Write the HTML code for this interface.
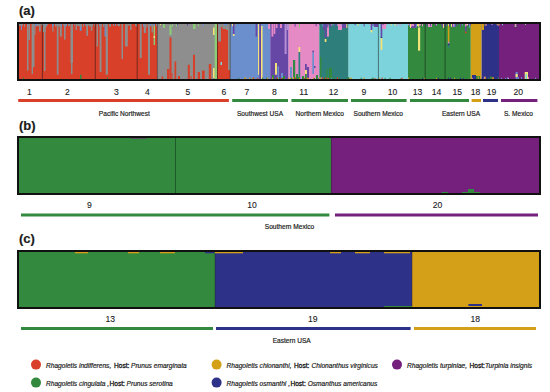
<!DOCTYPE html>
<html><head><meta charset="utf-8"><title>STRUCTURE plots</title>
<style>html,body{margin:0;padding:0;background:#fff;width:550px;height:392px;overflow:hidden}
text{font-family:"Liberation Sans",sans-serif}</style></head>
<body><svg width="550" height="392" viewBox="0 0 550 392" style="display:block" font-family="Liberation Sans, sans-serif"><rect x="19.00" y="24.00" width="138.40" height="55.00" fill="#D8402A"/>
<rect x="157.40" y="24.00" width="55.60" height="55.00" fill="#8E8E8E"/>
<rect x="213.00" y="24.00" width="4.00" height="55.00" fill="#8CCB78"/>
<rect x="217.00" y="24.00" width="13.20" height="55.00" fill="#D8402A"/>
<rect x="230.20" y="24.00" width="40.00" height="55.00" fill="#6A8FCC"/>
<rect x="270.20" y="24.00" width="18.40" height="55.00" fill="#6747A6"/>
<rect x="288.60" y="24.00" width="30.70" height="55.00" fill="#E68AC6"/>
<rect x="319.30" y="24.00" width="29.30" height="55.00" fill="#2E7F7B"/>
<rect x="348.60" y="24.00" width="59.40" height="55.00" fill="#7DD3DB"/>
<rect x="408.00" y="24.00" width="62.80" height="55.00" fill="#338A3E"/>
<rect x="470.80" y="24.00" width="10.80" height="55.00" fill="#D4A017"/>
<rect x="481.60" y="24.00" width="17.40" height="55.00" fill="#2E3188"/>
<rect x="499.00" y="24.00" width="40.00" height="55.00" fill="#75207D"/>
<rect x="21.00" y="24.00" width="1.00" height="6.00" fill="#6A8FCC"/>
<rect x="27.00" y="24.00" width="1.50" height="46.60" fill="#8E8E8E"/>
<rect x="28.50" y="24.00" width="1.50" height="16.00" fill="#8E8E8E"/>
<rect x="31.60" y="24.00" width="1.40" height="50.00" fill="#8E8E8E"/>
<rect x="33.00" y="24.00" width="1.50" height="43.00" fill="#8E8E8E"/>
<rect x="34.50" y="24.00" width="1.00" height="11.00" fill="#8E8E8E"/>
<rect x="39.00" y="24.00" width="1.70" height="7.60" fill="#8E8E8E"/>
<rect x="43.00" y="24.00" width="2.70" height="8.00" fill="#8E8E8E"/>
<rect x="44.00" y="24.00" width="1.50" height="47.00" fill="#8E8E8E"/>
<rect x="52.30" y="24.00" width="1.20" height="7.60" fill="#8E8E8E"/>
<rect x="56.80" y="24.00" width="1.70" height="50.70" fill="#8E8E8E"/>
<rect x="59.80" y="24.00" width="2.00" height="12.60" fill="#8E8E8E"/>
<rect x="64.00" y="24.00" width="1.60" height="15.60" fill="#8E8E8E"/>
<rect x="64.00" y="24.00" width="1.60" height="3.00" fill="#6A8FCC"/>
<rect x="70.50" y="24.00" width="2.50" height="39.00" fill="#8E8E8E"/>
<rect x="71.00" y="24.00" width="1.50" height="50.00" fill="#8E8E8E"/>
<rect x="75.50" y="24.00" width="1.50" height="6.00" fill="#8E8E8E"/>
<rect x="79.70" y="24.00" width="2.00" height="6.80" fill="#6A8FCC"/>
<rect x="80.00" y="74.70" width="1.50" height="4.30" fill="#338A3E"/>
<rect x="86.30" y="24.00" width="1.70" height="11.80" fill="#8E8E8E"/>
<rect x="90.80" y="24.00" width="1.60" height="6.80" fill="#8E8E8E"/>
<rect x="96.60" y="24.00" width="1.40" height="22.50" fill="#8E8E8E"/>
<rect x="99.60" y="24.00" width="1.90" height="48.00" fill="#8E8E8E"/>
<rect x="104.50" y="24.00" width="1.70" height="12.60" fill="#6A8FCC"/>
<rect x="105.70" y="24.00" width="2.20" height="50.70" fill="#8E8E8E"/>
<rect x="121.50" y="24.00" width="1.50" height="35.00" fill="#8E8E8E"/>
<rect x="125.00" y="24.00" width="2.80" height="22.50" fill="#8E8E8E"/>
<rect x="130.00" y="24.00" width="1.50" height="6.00" fill="#8E8E8E"/>
<rect x="139.70" y="24.00" width="2.00" height="34.00" fill="#8E8E8E"/>
<rect x="143.80" y="24.00" width="2.20" height="9.00" fill="#8E8E8E"/>
<rect x="146.30" y="24.00" width="1.20" height="3.50" fill="#8E8E8E"/>
<rect x="148.00" y="24.00" width="2.00" height="50.70" fill="#8E8E8E"/>
<rect x="151.60" y="24.00" width="1.40" height="8.40" fill="#8E8E8E"/>
<rect x="153.60" y="24.00" width="1.40" height="21.00" fill="#8CCB78"/>
<rect x="153.60" y="36.00" width="1.40" height="2.00" fill="#F2E27A"/>
<rect x="161.60" y="76.40" width="1.60" height="2.60" fill="#D8402A"/>
<rect x="167.00" y="69.00" width="2.50" height="10.00" fill="#D8402A"/>
<rect x="169.50" y="37.40" width="2.00" height="41.60" fill="#D8402A"/>
<rect x="169.50" y="25.00" width="2.00" height="10.00" fill="#8CCB78"/>
<rect x="171.50" y="73.00" width="1.00" height="6.00" fill="#D8402A"/>
<rect x="174.50" y="61.50" width="1.70" height="17.50" fill="#D8402A"/>
<rect x="178.00" y="76.00" width="2.00" height="3.00" fill="#D8402A"/>
<rect x="187.80" y="64.80" width="2.00" height="14.20" fill="#D8402A"/>
<rect x="190.50" y="76.00" width="1.00" height="3.00" fill="#D8402A"/>
<rect x="193.00" y="54.80" width="2.00" height="24.20" fill="#D8402A"/>
<rect x="197.70" y="72.00" width="2.30" height="7.00" fill="#D8402A"/>
<rect x="202.00" y="70.60" width="2.70" height="8.40" fill="#D8402A"/>
<rect x="208.80" y="64.00" width="2.50" height="15.00" fill="#D8402A"/>
<rect x="163.00" y="24.00" width="2.00" height="4.00" fill="#8CCB78"/>
<rect x="193.00" y="24.00" width="2.60" height="5.00" fill="#8CCB78"/>
<rect x="213.00" y="24.00" width="1.60" height="55.00" fill="#8E8E8E"/>
<rect x="213.00" y="27.50" width="1.60" height="7.50" fill="#F2E27A"/>
<rect x="213.00" y="68.00" width="1.60" height="10.00" fill="#F2E27A"/>
<rect x="218.00" y="24.00" width="3.00" height="17.50" fill="#8E8E8E"/>
<rect x="221.00" y="24.00" width="1.50" height="3.00" fill="#8E8E8E"/>
<rect x="222.50" y="24.00" width="3.50" height="5.00" fill="#8E8E8E"/>
<rect x="226.00" y="24.00" width="2.00" height="6.00" fill="#8E8E8E"/>
<rect x="228.00" y="24.00" width="2.00" height="46.00" fill="#8E8E8E"/>
<rect x="220.50" y="62.00" width="1.50" height="3.00" fill="#7DD3DB"/>
<rect x="232.90" y="24.00" width="1.60" height="10.00" fill="#6747A6"/>
<rect x="232.90" y="34.00" width="1.60" height="2.00" fill="#F2E27A"/>
<rect x="255.60" y="24.00" width="1.60" height="12.60" fill="#6747A6"/>
<rect x="258.00" y="24.00" width="1.30" height="50.70" fill="#F2E27A"/>
<rect x="259.30" y="24.00" width="1.70" height="55.00" fill="#6747A6"/>
<rect x="261.00" y="26.00" width="1.60" height="53.00" fill="#F2E27A"/>
<rect x="268.00" y="24.00" width="2.00" height="5.00" fill="#E68AC6"/>
<rect x="271.50" y="24.00" width="1.80" height="12.60" fill="#E68AC6"/>
<rect x="273.60" y="24.00" width="1.70" height="10.00" fill="#E68AC6"/>
<rect x="275.80" y="24.00" width="1.70" height="4.00" fill="#E68AC6"/>
<rect x="280.00" y="24.00" width="2.00" height="4.00" fill="#E68AC6"/>
<rect x="284.60" y="24.00" width="2.00" height="30.00" fill="#B58ED6"/>
<rect x="286.60" y="24.00" width="2.00" height="6.00" fill="#B58ED6"/>
<rect x="275.00" y="63.00" width="2.00" height="11.70" fill="#F2E27A"/>
<rect x="277.50" y="66.40" width="1.50" height="12.60" fill="#6A8FCC"/>
<rect x="272.00" y="75.00" width="2.00" height="4.00" fill="#338A3E"/>
<rect x="281.00" y="73.00" width="2.00" height="6.00" fill="#6A8FCC"/>
<rect x="283.00" y="76.00" width="2.00" height="3.00" fill="#338A3E"/>
<rect x="290.00" y="67.00" width="2.00" height="12.00" fill="#6A8FCC"/>
<rect x="293.00" y="60.00" width="2.20" height="19.00" fill="#338A3E"/>
<rect x="298.50" y="47.00" width="1.70" height="5.00" fill="#F2E27A"/>
<rect x="298.50" y="52.00" width="1.70" height="27.00" fill="#2E7F7B"/>
<rect x="305.00" y="64.00" width="1.80" height="6.00" fill="#6747A6"/>
<rect x="305.00" y="70.00" width="1.80" height="4.00" fill="#F2E27A"/>
<rect x="305.00" y="74.00" width="1.80" height="5.00" fill="#338A3E"/>
<rect x="307.00" y="67.00" width="2.00" height="12.00" fill="#6747A6"/>
<rect x="312.30" y="50.70" width="1.70" height="1.80" fill="#6747A6"/>
<rect x="312.30" y="52.50" width="1.70" height="21.50" fill="#6A8FCC"/>
<rect x="314.00" y="66.00" width="1.50" height="2.00" fill="#6747A6"/>
<rect x="299.00" y="24.00" width="1.00" height="4.00" fill="#8CCB78"/>
<rect x="296.00" y="74.00" width="2.00" height="5.00" fill="#338A3E"/>
<rect x="302.00" y="76.00" width="2.00" height="3.00" fill="#338A3E"/>
<rect x="316.00" y="75.00" width="2.00" height="4.00" fill="#338A3E"/>
<rect x="320.00" y="57.00" width="1.40" height="22.00" fill="#338A3E"/>
<rect x="323.00" y="24.00" width="1.70" height="6.00" fill="#6747A6"/>
<rect x="324.70" y="24.00" width="1.70" height="14.00" fill="#6747A6"/>
<rect x="324.70" y="39.00" width="1.70" height="3.00" fill="#F2E27A"/>
<rect x="327.00" y="24.00" width="2.00" height="12.60" fill="#E68AC6"/>
<rect x="330.00" y="68.00" width="2.00" height="11.00" fill="#338A3E"/>
<rect x="338.00" y="24.00" width="4.00" height="6.00" fill="#E68AC6"/>
<rect x="342.00" y="24.00" width="4.60" height="4.00" fill="#6747A6"/>
<rect x="370.70" y="24.00" width="1.60" height="6.00" fill="#6747A6"/>
<rect x="370.70" y="30.00" width="1.60" height="2.40" fill="#F2E27A"/>
<rect x="374.00" y="24.00" width="4.00" height="3.00" fill="#6747A6"/>
<rect x="380.60" y="24.00" width="1.70" height="12.60" fill="#6747A6"/>
<rect x="380.60" y="36.60" width="1.70" height="1.40" fill="#2E3188"/>
<rect x="380.60" y="38.00" width="1.70" height="12.00" fill="#F2E27A"/>
<rect x="382.30" y="24.00" width="3.70" height="5.00" fill="#E68AC6"/>
<rect x="418.00" y="27.50" width="2.20" height="23.20" fill="#F2E27A"/>
<rect x="447.80" y="24.00" width="1.60" height="17.80" fill="#D4A017"/>
<rect x="447.80" y="41.80" width="1.60" height="1.80" fill="#E68AC6"/>
<rect x="447.80" y="43.60" width="1.60" height="2.00" fill="#2E3188"/>
<rect x="447.80" y="45.60" width="1.60" height="2.40" fill="#2E7F7B"/>
<rect x="465.00" y="31.60" width="1.60" height="1.70" fill="#D8402A"/>
<rect x="465.00" y="25.00" width="1.60" height="6.00" fill="#6747A6"/>
<rect x="410.00" y="24.00" width="6.00" height="4.00" fill="#6747A6"/>
<rect x="428.00" y="24.00" width="4.00" height="3.00" fill="#E68AC6"/>
<rect x="452.00" y="24.00" width="4.00" height="3.00" fill="#6747A6"/>
<rect x="472.00" y="75.00" width="4.00" height="4.00" fill="#2E3188"/>
<rect x="476.00" y="76.00" width="4.00" height="3.00" fill="#338A3E"/>
<rect x="481.60" y="24.00" width="2.40" height="6.00" fill="#D4A017"/>
<rect x="515.60" y="72.00" width="2.10" height="7.00" fill="#6A8FCC"/>
<rect x="515.60" y="74.00" width="2.10" height="3.00" fill="#F2E27A"/>
<rect x="524.70" y="72.00" width="3.30" height="7.00" fill="#F2E27A"/>
<rect x="525.50" y="74.00" width="1.50" height="5.00" fill="#7DD3DB"/>
<rect x="514.70" y="24.00" width="1.70" height="3.00" fill="#8CCB78"/>
<rect x="19.00" y="24.00" width="1.00" height="1.79" fill="#8E8E8E"/>
<rect x="20.00" y="24.00" width="1.00" height="1.73" fill="#8E8E8E"/>
<rect x="21.00" y="24.00" width="1.00" height="1.07" fill="#8E8E8E"/>
<rect x="22.00" y="24.00" width="1.00" height="1.48" fill="#8E8E8E"/>
<rect x="24.00" y="24.00" width="1.00" height="2.89" fill="#8E8E8E"/>
<rect x="27.00" y="24.00" width="1.00" height="1.10" fill="#6A8FCC"/>
<rect x="28.00" y="24.00" width="1.00" height="1.58" fill="#8E8E8E"/>
<rect x="29.00" y="24.00" width="1.00" height="2.14" fill="#8E8E8E"/>
<rect x="32.00" y="24.00" width="1.00" height="1.74" fill="#8E8E8E"/>
<rect x="33.00" y="24.00" width="1.00" height="2.13" fill="#8E8E8E"/>
<rect x="35.00" y="24.00" width="1.00" height="2.55" fill="#6A8FCC"/>
<rect x="36.00" y="24.00" width="1.00" height="1.72" fill="#6A8FCC"/>
<rect x="37.00" y="24.00" width="1.00" height="2.40" fill="#8E8E8E"/>
<rect x="38.00" y="24.00" width="1.00" height="2.05" fill="#8E8E8E"/>
<rect x="41.00" y="24.00" width="1.00" height="1.24" fill="#8E8E8E"/>
<rect x="42.00" y="24.00" width="1.00" height="1.30" fill="#8E8E8E"/>
<rect x="43.00" y="24.00" width="1.00" height="2.92" fill="#8E8E8E"/>
<rect x="44.00" y="24.00" width="1.00" height="1.68" fill="#8E8E8E"/>
<rect x="45.00" y="24.00" width="1.00" height="2.16" fill="#6A8FCC"/>
<rect x="46.00" y="24.00" width="1.00" height="2.89" fill="#8E8E8E"/>
<rect x="47.00" y="24.00" width="1.00" height="1.12" fill="#8E8E8E"/>
<rect x="52.00" y="24.00" width="1.00" height="2.77" fill="#6A8FCC"/>
<rect x="53.00" y="24.00" width="1.00" height="1.71" fill="#6A8FCC"/>
<rect x="55.00" y="24.00" width="1.00" height="2.54" fill="#8E8E8E"/>
<rect x="56.00" y="24.00" width="1.00" height="1.80" fill="#8E8E8E"/>
<rect x="58.00" y="24.00" width="1.00" height="1.90" fill="#8E8E8E"/>
<rect x="59.00" y="24.00" width="1.00" height="2.64" fill="#8E8E8E"/>
<rect x="61.00" y="24.00" width="1.00" height="2.97" fill="#6A8FCC"/>
<rect x="63.00" y="24.00" width="1.00" height="1.30" fill="#8E8E8E"/>
<rect x="64.00" y="24.00" width="1.00" height="2.32" fill="#8E8E8E"/>
<rect x="65.00" y="24.00" width="1.00" height="1.53" fill="#8E8E8E"/>
<rect x="66.00" y="24.00" width="1.00" height="2.07" fill="#6A8FCC"/>
<rect x="68.00" y="24.00" width="1.00" height="2.38" fill="#8E8E8E"/>
<rect x="69.00" y="24.00" width="1.00" height="1.91" fill="#8E8E8E"/>
<rect x="74.00" y="24.00" width="1.00" height="1.21" fill="#6A8FCC"/>
<rect x="76.00" y="24.00" width="1.00" height="2.97" fill="#8E8E8E"/>
<rect x="77.00" y="24.00" width="1.00" height="1.68" fill="#8E8E8E"/>
<rect x="78.00" y="24.00" width="1.00" height="2.13" fill="#8E8E8E"/>
<rect x="79.00" y="24.00" width="1.00" height="2.23" fill="#8E8E8E"/>
<rect x="80.00" y="24.00" width="1.00" height="2.23" fill="#8E8E8E"/>
<rect x="81.00" y="24.00" width="1.00" height="2.91" fill="#8E8E8E"/>
<rect x="83.00" y="24.00" width="1.00" height="2.70" fill="#8E8E8E"/>
<rect x="85.00" y="24.00" width="1.00" height="1.62" fill="#6A8FCC"/>
<rect x="86.00" y="24.00" width="1.00" height="2.48" fill="#8E8E8E"/>
<rect x="87.00" y="24.00" width="1.00" height="2.03" fill="#8E8E8E"/>
<rect x="88.00" y="24.00" width="1.00" height="1.29" fill="#8E8E8E"/>
<rect x="89.00" y="24.00" width="1.00" height="2.52" fill="#8E8E8E"/>
<rect x="90.00" y="24.00" width="1.00" height="2.39" fill="#8E8E8E"/>
<rect x="91.00" y="24.00" width="1.00" height="2.82" fill="#8E8E8E"/>
<rect x="92.00" y="24.00" width="1.00" height="2.07" fill="#8E8E8E"/>
<rect x="94.00" y="24.00" width="1.00" height="2.23" fill="#8E8E8E"/>
<rect x="97.00" y="24.00" width="1.00" height="2.64" fill="#8E8E8E"/>
<rect x="99.00" y="24.00" width="1.00" height="1.71" fill="#6A8FCC"/>
<rect x="100.00" y="24.00" width="1.00" height="2.58" fill="#8E8E8E"/>
<rect x="101.00" y="24.00" width="1.00" height="2.39" fill="#8E8E8E"/>
<rect x="103.00" y="24.00" width="1.00" height="2.91" fill="#8E8E8E"/>
<rect x="104.00" y="24.00" width="1.00" height="1.20" fill="#8E8E8E"/>
<rect x="105.00" y="24.00" width="1.00" height="1.41" fill="#8E8E8E"/>
<rect x="109.00" y="24.00" width="1.00" height="2.60" fill="#8E8E8E"/>
<rect x="110.00" y="24.00" width="1.00" height="2.82" fill="#8E8E8E"/>
<rect x="113.00" y="24.00" width="1.00" height="1.87" fill="#8E8E8E"/>
<rect x="115.00" y="24.00" width="1.00" height="1.93" fill="#6A8FCC"/>
<rect x="117.00" y="24.00" width="1.00" height="1.34" fill="#8E8E8E"/>
<rect x="118.00" y="24.00" width="1.00" height="2.18" fill="#8E8E8E"/>
<rect x="119.00" y="24.00" width="1.00" height="2.22" fill="#8E8E8E"/>
<rect x="121.00" y="24.00" width="1.00" height="1.31" fill="#8E8E8E"/>
<rect x="122.00" y="24.00" width="1.00" height="1.03" fill="#8E8E8E"/>
<rect x="125.00" y="24.00" width="1.00" height="1.87" fill="#8E8E8E"/>
<rect x="128.00" y="24.00" width="1.00" height="1.43" fill="#8E8E8E"/>
<rect x="129.00" y="24.00" width="1.00" height="1.52" fill="#8E8E8E"/>
<rect x="130.00" y="24.00" width="1.00" height="1.12" fill="#8E8E8E"/>
<rect x="135.00" y="24.00" width="1.00" height="2.06" fill="#8E8E8E"/>
<rect x="136.00" y="24.00" width="1.00" height="2.75" fill="#8E8E8E"/>
<rect x="140.00" y="24.00" width="1.00" height="1.95" fill="#8E8E8E"/>
<rect x="143.00" y="24.00" width="1.00" height="2.57" fill="#6A8FCC"/>
<rect x="144.00" y="24.00" width="1.00" height="1.50" fill="#8E8E8E"/>
<rect x="145.00" y="24.00" width="1.00" height="2.02" fill="#8E8E8E"/>
<rect x="149.00" y="24.00" width="1.00" height="2.39" fill="#8E8E8E"/>
<rect x="150.00" y="24.00" width="1.00" height="2.02" fill="#6A8FCC"/>
<rect x="151.00" y="24.00" width="1.00" height="2.85" fill="#8E8E8E"/>
<rect x="153.00" y="24.00" width="1.00" height="1.27" fill="#6A8FCC"/>
<rect x="154.00" y="24.00" width="1.00" height="1.63" fill="#6A8FCC"/>
<rect x="156.00" y="24.00" width="1.00" height="2.34" fill="#8E8E8E"/>
<rect x="219.00" y="24.00" width="1.00" height="1.29" fill="#6A8FCC"/>
<rect x="222.00" y="24.00" width="1.00" height="1.80" fill="#8E8E8E"/>
<rect x="223.00" y="24.00" width="1.00" height="1.32" fill="#8E8E8E"/>
<rect x="224.00" y="24.00" width="1.00" height="1.68" fill="#6A8FCC"/>
<rect x="225.00" y="24.00" width="1.00" height="1.18" fill="#6A8FCC"/>
<rect x="226.00" y="24.00" width="1.00" height="2.11" fill="#6A8FCC"/>
<rect x="227.00" y="24.00" width="1.00" height="1.77" fill="#8E8E8E"/>
<rect x="229.00" y="24.00" width="1.00" height="1.23" fill="#8E8E8E"/>
<rect x="160.00" y="24.00" width="1.00" height="1.08" fill="#F2E27A"/>
<rect x="172.00" y="24.00" width="1.00" height="2.60" fill="#8CCB78"/>
<rect x="176.00" y="24.00" width="1.00" height="2.60" fill="#8CCB78"/>
<rect x="177.00" y="24.00" width="1.00" height="1.13" fill="#6747A6"/>
<rect x="187.00" y="24.00" width="1.00" height="1.52" fill="#6747A6"/>
<rect x="198.00" y="24.00" width="1.00" height="2.47" fill="#8CCB78"/>
<rect x="203.00" y="24.00" width="1.00" height="2.31" fill="#6A8FCC"/>
<rect x="230.00" y="24.00" width="1.00" height="2.47" fill="#8E8E8E"/>
<rect x="232.00" y="24.00" width="1.00" height="2.11" fill="#F2E27A"/>
<rect x="235.00" y="24.00" width="1.00" height="2.31" fill="#8E8E8E"/>
<rect x="251.00" y="24.00" width="1.00" height="1.13" fill="#8E8E8E"/>
<rect x="289.60" y="24.00" width="1.00" height="1.29" fill="#8CCB78"/>
<rect x="294.60" y="24.00" width="1.00" height="2.71" fill="#6747A6"/>
<rect x="315.60" y="24.00" width="1.00" height="2.17" fill="#6747A6"/>
<rect x="319.30" y="24.00" width="1.00" height="1.13" fill="#6747A6"/>
<rect x="322.30" y="24.00" width="1.00" height="2.68" fill="#6A8FCC"/>
<rect x="326.30" y="24.00" width="1.00" height="2.37" fill="#6747A6"/>
<rect x="327.30" y="24.00" width="1.00" height="3.69" fill="#6747A6"/>
<rect x="328.30" y="24.00" width="1.00" height="1.20" fill="#6747A6"/>
<rect x="330.30" y="24.00" width="1.00" height="3.54" fill="#6747A6"/>
<rect x="331.30" y="24.00" width="1.00" height="1.69" fill="#E68AC6"/>
<rect x="333.30" y="24.00" width="1.00" height="1.23" fill="#6A8FCC"/>
<rect x="335.30" y="24.00" width="1.00" height="2.85" fill="#6747A6"/>
<rect x="337.30" y="24.00" width="1.00" height="2.00" fill="#E68AC6"/>
<rect x="341.30" y="24.00" width="1.00" height="1.18" fill="#6A8FCC"/>
<rect x="342.30" y="24.00" width="1.00" height="3.08" fill="#6747A6"/>
<rect x="344.30" y="24.00" width="1.00" height="1.86" fill="#6747A6"/>
<rect x="345.30" y="24.00" width="1.00" height="3.98" fill="#6747A6"/>
<rect x="346.30" y="24.00" width="1.00" height="3.93" fill="#F2E27A"/>
<rect x="348.30" y="24.00" width="1.00" height="1.23" fill="#6A8FCC"/>
<rect x="354.60" y="24.00" width="1.00" height="1.21" fill="#6747A6"/>
<rect x="357.60" y="24.00" width="1.00" height="1.76" fill="#F2E27A"/>
<rect x="363.60" y="24.00" width="1.00" height="2.42" fill="#6747A6"/>
<rect x="369.60" y="24.00" width="1.00" height="1.00" fill="#E68AC6"/>
<rect x="372.60" y="24.00" width="1.00" height="2.07" fill="#6747A6"/>
<rect x="382.60" y="24.00" width="1.00" height="1.08" fill="#6747A6"/>
<rect x="385.60" y="24.00" width="1.00" height="1.65" fill="#E68AC6"/>
<rect x="390.60" y="24.00" width="1.00" height="1.60" fill="#F2E27A"/>
<rect x="394.60" y="24.00" width="1.00" height="1.62" fill="#F2E27A"/>
<rect x="396.60" y="24.00" width="1.00" height="1.73" fill="#E68AC6"/>
<rect x="399.60" y="24.00" width="1.00" height="1.52" fill="#E68AC6"/>
<rect x="408.00" y="24.00" width="1.00" height="1.23" fill="#E68AC6"/>
<rect x="409.00" y="24.00" width="1.00" height="2.65" fill="#6A8FCC"/>
<rect x="410.00" y="24.00" width="1.00" height="3.99" fill="#F2E27A"/>
<rect x="411.00" y="24.00" width="1.00" height="2.64" fill="#E68AC6"/>
<rect x="412.00" y="24.00" width="1.00" height="2.03" fill="#E68AC6"/>
<rect x="413.00" y="24.00" width="1.00" height="2.10" fill="#E68AC6"/>
<rect x="415.00" y="24.00" width="1.00" height="3.25" fill="#6747A6"/>
<rect x="416.00" y="24.00" width="1.00" height="3.24" fill="#6A8FCC"/>
<rect x="417.00" y="24.00" width="1.00" height="2.01" fill="#F2E27A"/>
<rect x="418.00" y="24.00" width="1.00" height="2.72" fill="#F2E27A"/>
<rect x="419.00" y="24.00" width="1.00" height="2.51" fill="#E68AC6"/>
<rect x="420.00" y="24.00" width="1.00" height="1.28" fill="#E68AC6"/>
<rect x="422.00" y="24.00" width="1.00" height="2.34" fill="#E68AC6"/>
<rect x="426.00" y="24.00" width="1.00" height="2.28" fill="#6747A6"/>
<rect x="430.00" y="24.00" width="1.00" height="2.17" fill="#6747A6"/>
<rect x="435.00" y="24.00" width="1.00" height="1.67" fill="#6747A6"/>
<rect x="436.00" y="24.00" width="1.00" height="1.33" fill="#E68AC6"/>
<rect x="441.00" y="24.00" width="1.00" height="1.00" fill="#6747A6"/>
<rect x="442.00" y="24.00" width="1.00" height="3.76" fill="#6747A6"/>
<rect x="443.00" y="24.00" width="1.00" height="3.89" fill="#F2E27A"/>
<rect x="444.00" y="24.00" width="1.00" height="2.91" fill="#6747A6"/>
<rect x="446.00" y="24.00" width="1.00" height="1.90" fill="#6747A6"/>
<rect x="448.00" y="24.00" width="1.00" height="1.67" fill="#F2E27A"/>
<rect x="449.00" y="24.00" width="1.00" height="2.61" fill="#6747A6"/>
<rect x="451.00" y="24.00" width="1.00" height="2.93" fill="#F2E27A"/>
<rect x="453.00" y="24.00" width="1.00" height="2.64" fill="#E68AC6"/>
<rect x="454.00" y="24.00" width="1.00" height="3.11" fill="#6A8FCC"/>
<rect x="455.00" y="24.00" width="1.00" height="1.58" fill="#6747A6"/>
<rect x="457.00" y="24.00" width="1.00" height="1.77" fill="#6747A6"/>
<rect x="460.00" y="24.00" width="1.00" height="3.09" fill="#6747A6"/>
<rect x="462.00" y="24.00" width="1.00" height="1.59" fill="#6A8FCC"/>
<rect x="465.00" y="24.00" width="1.00" height="2.49" fill="#E68AC6"/>
<rect x="466.00" y="24.00" width="1.00" height="1.69" fill="#E68AC6"/>
<rect x="467.00" y="24.00" width="1.00" height="1.33" fill="#F2E27A"/>
<rect x="468.00" y="24.00" width="1.00" height="1.56" fill="#6747A6"/>
<rect x="469.00" y="24.00" width="1.00" height="3.73" fill="#6A8FCC"/>
<rect x="470.00" y="24.00" width="1.00" height="1.44" fill="#6747A6"/>
<rect x="484.60" y="24.00" width="1.00" height="1.71" fill="#D4A017"/>
<rect x="485.60" y="24.00" width="1.00" height="1.90" fill="#E68AC6"/>
<rect x="491.60" y="24.00" width="1.00" height="1.03" fill="#E68AC6"/>
<rect x="496.60" y="24.00" width="1.00" height="1.08" fill="#D4A017"/>
<rect x="497.60" y="24.00" width="1.00" height="1.96" fill="#E68AC6"/>
<rect x="498.60" y="24.00" width="1.00" height="1.38" fill="#D4A017"/>
<rect x="502.00" y="24.00" width="1.00" height="1.29" fill="#7DD3DB"/>
<rect x="515.00" y="24.00" width="1.00" height="2.12" fill="#E68AC6"/>
<rect x="525.00" y="24.00" width="1.00" height="1.04" fill="#8CCB78"/>
<rect x="272.00" y="77.54" width="1.00" height="1.46" fill="#D4A017"/>
<rect x="276.00" y="77.75" width="1.00" height="1.25" fill="#338A3E"/>
<rect x="277.00" y="77.52" width="1.00" height="1.48" fill="#D8402A"/>
<rect x="279.00" y="77.12" width="1.00" height="1.88" fill="#338A3E"/>
<rect x="281.00" y="77.79" width="1.00" height="1.21" fill="#D8402A"/>
<rect x="282.00" y="77.83" width="1.00" height="1.17" fill="#338A3E"/>
<rect x="283.00" y="77.38" width="1.00" height="1.62" fill="#338A3E"/>
<rect x="288.00" y="77.71" width="1.00" height="1.29" fill="#D4A017"/>
<rect x="290.00" y="77.80" width="1.00" height="1.20" fill="#D4A017"/>
<rect x="291.00" y="77.76" width="1.00" height="1.24" fill="#338A3E"/>
<rect x="292.00" y="77.81" width="1.00" height="1.19" fill="#6A8FCC"/>
<rect x="293.00" y="77.01" width="1.00" height="1.99" fill="#D4A017"/>
<rect x="295.00" y="77.35" width="1.00" height="1.65" fill="#D8402A"/>
<rect x="297.00" y="77.12" width="1.00" height="1.88" fill="#338A3E"/>
<rect x="298.00" y="77.09" width="1.00" height="1.91" fill="#338A3E"/>
<rect x="299.00" y="77.77" width="1.00" height="1.23" fill="#D4A017"/>
<rect x="300.00" y="77.03" width="1.00" height="1.97" fill="#6A8FCC"/>
<rect x="303.00" y="77.55" width="1.00" height="1.45" fill="#338A3E"/>
<rect x="304.00" y="77.89" width="1.00" height="1.11" fill="#D8402A"/>
<rect x="307.00" y="77.66" width="1.00" height="1.34" fill="#D4A017"/>
<rect x="308.00" y="77.96" width="1.00" height="1.04" fill="#D4A017"/>
<rect x="313.00" y="77.81" width="1.00" height="1.19" fill="#D4A017"/>
<rect x="314.00" y="77.97" width="1.00" height="1.03" fill="#338A3E"/>
<rect x="317.00" y="77.34" width="1.00" height="1.66" fill="#338A3E"/>
<rect x="318.00" y="77.91" width="1.00" height="1.09" fill="#6A8FCC"/>
<rect x="319.00" y="77.59" width="1.00" height="1.41" fill="#D4A017"/>
<rect x="320.00" y="77.58" width="1.00" height="1.42" fill="#D4A017"/>
<rect x="321.00" y="77.12" width="1.00" height="1.88" fill="#6A8FCC"/>
<rect x="322.00" y="77.14" width="1.00" height="1.86" fill="#D8402A"/>
<rect x="324.00" y="77.61" width="1.00" height="1.39" fill="#338A3E"/>
<rect x="325.00" y="77.57" width="1.00" height="1.43" fill="#D8402A"/>
<rect x="326.00" y="77.18" width="1.00" height="1.82" fill="#D8402A"/>
<rect x="327.00" y="77.54" width="1.00" height="1.46" fill="#D4A017"/>
<rect x="328.00" y="77.95" width="1.00" height="1.05" fill="#D8402A"/>
<rect x="329.00" y="77.91" width="1.00" height="1.09" fill="#338A3E"/>
<rect x="331.00" y="77.83" width="1.00" height="1.17" fill="#6A8FCC"/>
<rect x="332.00" y="77.48" width="1.00" height="1.52" fill="#338A3E"/>
<rect x="334.00" y="77.25" width="1.00" height="1.75" fill="#338A3E"/>
<rect x="337.00" y="77.02" width="1.00" height="1.98" fill="#D8402A"/>
<rect x="339.00" y="77.91" width="1.00" height="1.09" fill="#338A3E"/>
<rect x="347.00" y="77.82" width="1.00" height="1.18" fill="#338A3E"/>
<rect x="348.00" y="77.06" width="1.00" height="1.94" fill="#338A3E"/>
<rect x="348.60" y="77.94" width="1.00" height="1.06" fill="#338A3E"/>
<rect x="349.60" y="77.59" width="1.00" height="1.41" fill="#D4A017"/>
<rect x="350.60" y="77.58" width="1.00" height="1.42" fill="#D4A017"/>
<rect x="360.60" y="77.67" width="1.00" height="1.33" fill="#338A3E"/>
<rect x="363.60" y="77.51" width="1.00" height="1.49" fill="#D4A017"/>
<rect x="371.60" y="77.78" width="1.00" height="1.22" fill="#338A3E"/>
<rect x="372.60" y="77.75" width="1.00" height="1.25" fill="#338A3E"/>
<rect x="374.60" y="77.96" width="1.00" height="1.04" fill="#D8402A"/>
<rect x="378.60" y="77.55" width="1.00" height="1.45" fill="#D4A017"/>
<rect x="381.60" y="77.50" width="1.00" height="1.50" fill="#D8402A"/>
<rect x="384.60" y="77.86" width="1.00" height="1.14" fill="#338A3E"/>
<rect x="389.60" y="77.69" width="1.00" height="1.31" fill="#338A3E"/>
<rect x="400.60" y="77.98" width="1.00" height="1.02" fill="#338A3E"/>
<rect x="401.60" y="77.68" width="1.00" height="1.32" fill="#D8402A"/>
<rect x="408.00" y="77.52" width="1.00" height="1.48" fill="#D4A017"/>
<rect x="422.00" y="77.91" width="1.00" height="1.09" fill="#2E3188"/>
<rect x="424.00" y="77.84" width="1.00" height="1.16" fill="#D4A017"/>
<rect x="436.00" y="77.89" width="1.00" height="1.11" fill="#D4A017"/>
<rect x="438.00" y="77.72" width="1.00" height="1.28" fill="#2E3188"/>
<rect x="448.00" y="77.65" width="1.00" height="1.35" fill="#2E3188"/>
<rect x="450.00" y="77.56" width="1.00" height="1.44" fill="#2E3188"/>
<rect x="454.00" y="77.70" width="1.00" height="1.30" fill="#D4A017"/>
<rect x="460.00" y="77.73" width="1.00" height="1.27" fill="#2E3188"/>
<rect x="463.00" y="77.99" width="1.00" height="1.01" fill="#2E3188"/>
<rect x="471.80" y="77.87" width="1.00" height="1.13" fill="#E68AC6"/>
<rect x="477.80" y="76.51" width="1.00" height="2.49" fill="#D4A017"/>
<rect x="481.80" y="77.48" width="1.00" height="1.52" fill="#2E3188"/>
<rect x="483.80" y="76.58" width="1.00" height="2.42" fill="#E68AC6"/>
<rect x="484.80" y="76.63" width="1.00" height="2.37" fill="#D4A017"/>
<rect x="487.80" y="77.83" width="1.00" height="1.17" fill="#338A3E"/>
<rect x="489.80" y="76.32" width="1.00" height="2.68" fill="#338A3E"/>
<rect x="490.80" y="76.51" width="1.00" height="2.49" fill="#338A3E"/>
<rect x="491.80" y="77.34" width="1.00" height="1.66" fill="#D4A017"/>
<rect x="492.80" y="77.06" width="1.00" height="1.94" fill="#D4A017"/>
<rect x="494.80" y="77.13" width="1.00" height="1.87" fill="#2E3188"/>
<rect x="497.80" y="77.22" width="1.00" height="1.78" fill="#338A3E"/>
<rect x="501.00" y="77.89" width="1.00" height="1.11" fill="#6A8FCC"/>
<rect x="505.00" y="77.86" width="1.00" height="1.14" fill="#6A8FCC"/>
<rect x="507.00" y="77.26" width="1.00" height="1.74" fill="#6A8FCC"/>
<rect x="508.00" y="77.80" width="1.00" height="1.20" fill="#E68AC6"/>
<rect x="518.00" y="77.17" width="1.00" height="1.83" fill="#6A8FCC"/>
<rect x="521.00" y="77.21" width="1.00" height="1.79" fill="#6A8FCC"/>
<rect x="528.00" y="77.09" width="1.00" height="1.91" fill="#E68AC6"/>
<rect x="535.00" y="77.65" width="1.00" height="1.35" fill="#6A8FCC"/>
<rect x="23.00" y="77.71" width="1.00" height="1.29" fill="#338A3E"/>
<rect x="107.00" y="77.31" width="1.00" height="1.69" fill="#338A3E"/>
<rect x="238.20" y="77.85" width="1.00" height="1.15" fill="#338A3E"/>
<rect x="244.20" y="77.68" width="1.00" height="1.32" fill="#D4A017"/>
<rect x="245.20" y="77.27" width="1.00" height="1.73" fill="#D4A017"/>
<rect x="249.20" y="77.41" width="1.00" height="1.59" fill="#D4A017"/>
<rect x="252.20" y="77.63" width="1.00" height="1.37" fill="#D4A017"/>
<rect x="253.20" y="77.35" width="1.00" height="1.65" fill="#D8402A"/>
<rect x="257.20" y="77.72" width="1.00" height="1.28" fill="#D8402A"/>
<rect x="262.20" y="77.48" width="1.00" height="1.52" fill="#338A3E"/>
<rect x="266.20" y="77.70" width="1.00" height="1.30" fill="#338A3E"/>
<rect x="267.20" y="77.46" width="1.00" height="1.54" fill="#D4A017"/>
<rect x="326.30" y="69.00" width="1.30" height="10.00" fill="#338A3E"/>
<rect x="329.00" y="67.60" width="1.00" height="11.40" fill="#338A3E"/>
<rect x="41.90" y="24" width="1" height="55" fill="#111" opacity="0.5"/>
<rect x="94.80" y="24" width="1" height="55" fill="#111" opacity="0.5"/>
<rect x="136.70" y="24" width="1" height="55" fill="#111" opacity="0.5"/>
<rect x="156.90" y="24" width="1" height="55" fill="#111" opacity="0.5"/>
<rect x="217.00" y="24" width="1" height="55" fill="#111" opacity="0.5"/>
<rect x="229.70" y="24" width="1" height="55" fill="#111" opacity="0.5"/>
<rect x="377.90" y="24" width="1" height="55" fill="#111" opacity="0.5"/>
<rect x="424.70" y="24" width="1" height="55" fill="#111" opacity="0.5"/>
<rect x="444.60" y="24" width="1" height="55" fill="#111" opacity="0.5"/>
<rect x="18" y="23" width="522" height="57" fill="none" stroke="#111" stroke-width="2"/>
<rect x="19.00" y="138.00" width="312.00" height="55.00" fill="#338A3E"/>
<rect x="331.00" y="138.00" width="208.00" height="55.00" fill="#75207D"/>
<rect x="331" y="138" width="1" height="55" fill="#2a2030" opacity="0.45"/>
<rect x="131" y="138" width="15" height="1" fill="#75207D" opacity="0.5"/>
<rect x="441.70" y="192.00" width="6.30" height="1.00" fill="#338A3E"/>
<rect x="462.00" y="192.00" width="18.00" height="1.00" fill="#338A3E"/>
<rect x="468.00" y="189.00" width="6.00" height="4.00" fill="#338A3E"/>
<rect x="175" y="138" width="1" height="55" fill="#1d5a27"/>
<rect x="18" y="137" width="522" height="57" fill="none" stroke="#111" stroke-width="2"/>
<rect x="19.00" y="252.00" width="196.00" height="55.00" fill="#338A3E"/>
<rect x="215.00" y="252.00" width="197.00" height="55.00" fill="#2E3188"/>
<rect x="412.00" y="252.00" width="127.00" height="55.00" fill="#D4A017"/>
<rect x="214.5" y="252" width="1" height="55" fill="#1a2a20" opacity="0.45"/>
<rect x="411.5" y="252" width="1" height="55" fill="#201a30" opacity="0.45"/>
<rect x="75.00" y="252.00" width="13.00" height="1.30" fill="#D4A017"/>
<rect x="128.00" y="252.00" width="11.00" height="1.30" fill="#D4A017"/>
<rect x="160.00" y="252.00" width="15.00" height="1.30" fill="#D4A017"/>
<rect x="205.00" y="252.00" width="9.00" height="1.30" fill="#2E3188"/>
<rect x="215.00" y="252.00" width="28.00" height="1.30" fill="#D4A017"/>
<rect x="330.00" y="252.00" width="11.00" height="1.30" fill="#D4A017"/>
<rect x="355.00" y="252.00" width="15.00" height="1.30" fill="#D4A017"/>
<rect x="384.00" y="252.00" width="26.00" height="1.30" fill="#D4A017"/>
<rect x="384.00" y="306.00" width="28.00" height="1.00" fill="#338A3E"/>
<rect x="468.40" y="304.00" width="13.60" height="2.00" fill="#2E3188"/>
<rect x="18" y="251" width="522" height="57" fill="none" stroke="#111" stroke-width="2"/>
<text x="19" y="15" font-size="13" text-anchor="start" font-weight="bold" font-style="normal" fill="#1a1a1a" stroke="#1a1a1a" stroke-width="0.18">(a)</text>
<text x="19" y="129.7" font-size="13" text-anchor="start" font-weight="bold" font-style="normal" fill="#1a1a1a" stroke="#1a1a1a" stroke-width="0.18">(b)</text>
<text x="19" y="243.2" font-size="13" text-anchor="start" font-weight="bold" font-style="normal" fill="#1a1a1a" stroke="#1a1a1a" stroke-width="0.18">(c)</text>
<text x="29.5" y="94.8" font-size="8.6" text-anchor="middle" font-weight="normal" font-style="normal" fill="#1a1a1a" stroke="#1a1a1a" stroke-width="0.1">1</text>
<text x="67.3" y="94.8" font-size="8.6" text-anchor="middle" font-weight="normal" font-style="normal" fill="#1a1a1a" stroke="#1a1a1a" stroke-width="0.1">2</text>
<text x="116.5" y="94.8" font-size="8.6" text-anchor="middle" font-weight="normal" font-style="normal" fill="#1a1a1a" stroke="#1a1a1a" stroke-width="0.1">3</text>
<text x="147.5" y="94.8" font-size="8.6" text-anchor="middle" font-weight="normal" font-style="normal" fill="#1a1a1a" stroke="#1a1a1a" stroke-width="0.1">4</text>
<text x="188" y="94.8" font-size="8.6" text-anchor="middle" font-weight="normal" font-style="normal" fill="#1a1a1a" stroke="#1a1a1a" stroke-width="0.1">5</text>
<text x="224" y="94.8" font-size="8.6" text-anchor="middle" font-weight="normal" font-style="normal" fill="#1a1a1a" stroke="#1a1a1a" stroke-width="0.1">6</text>
<text x="247" y="94.8" font-size="8.6" text-anchor="middle" font-weight="normal" font-style="normal" fill="#1a1a1a" stroke="#1a1a1a" stroke-width="0.1">7</text>
<text x="274.5" y="94.8" font-size="8.6" text-anchor="middle" font-weight="normal" font-style="normal" fill="#1a1a1a" stroke="#1a1a1a" stroke-width="0.1">8</text>
<text x="303.8" y="94.8" font-size="8.6" text-anchor="middle" font-weight="normal" font-style="normal" fill="#1a1a1a" stroke="#1a1a1a" stroke-width="0.1">11</text>
<text x="333.5" y="94.8" font-size="8.6" text-anchor="middle" font-weight="normal" font-style="normal" fill="#1a1a1a" stroke="#1a1a1a" stroke-width="0.1">12</text>
<text x="363.8" y="94.8" font-size="8.6" text-anchor="middle" font-weight="normal" font-style="normal" fill="#1a1a1a" stroke="#1a1a1a" stroke-width="0.1">9</text>
<text x="392.5" y="94.8" font-size="8.6" text-anchor="middle" font-weight="normal" font-style="normal" fill="#1a1a1a" stroke="#1a1a1a" stroke-width="0.1">10</text>
<text x="417.5" y="94.8" font-size="8.6" text-anchor="middle" font-weight="normal" font-style="normal" fill="#1a1a1a" stroke="#1a1a1a" stroke-width="0.1">13</text>
<text x="436.5" y="94.8" font-size="8.6" text-anchor="middle" font-weight="normal" font-style="normal" fill="#1a1a1a" stroke="#1a1a1a" stroke-width="0.1">14</text>
<text x="457.3" y="94.8" font-size="8.6" text-anchor="middle" font-weight="normal" font-style="normal" fill="#1a1a1a" stroke="#1a1a1a" stroke-width="0.1">15</text>
<text x="475.5" y="94.8" font-size="8.6" text-anchor="middle" font-weight="normal" font-style="normal" fill="#1a1a1a" stroke="#1a1a1a" stroke-width="0.1">18</text>
<text x="491.5" y="94.8" font-size="8.6" text-anchor="middle" font-weight="normal" font-style="normal" fill="#1a1a1a" stroke="#1a1a1a" stroke-width="0.1">19</text>
<text x="518.3" y="94.8" font-size="8.6" text-anchor="middle" font-weight="normal" font-style="normal" fill="#1a1a1a" stroke="#1a1a1a" stroke-width="0.1">20</text>
<rect x="18.20" y="99.00" width="210.70" height="3.00" fill="#D8402A"/>
<rect x="232.20" y="99.00" width="55.80" height="3.00" fill="#338A3E"/>
<rect x="291.40" y="99.00" width="56.60" height="3.00" fill="#338A3E"/>
<rect x="351.00" y="99.00" width="55.60" height="3.00" fill="#338A3E"/>
<rect x="410.00" y="99.00" width="59.00" height="3.00" fill="#338A3E"/>
<rect x="471.60" y="99.00" width="9.40" height="3.00" fill="#D4A017"/>
<rect x="483.00" y="99.00" width="15.00" height="3.00" fill="#2E3188"/>
<rect x="501.00" y="99.00" width="36.40" height="3.00" fill="#75207D"/>
<text x="124.3" y="115.6" font-size="6.6" text-anchor="middle" font-weight="normal" font-style="normal" fill="#1a1a1a" stroke="#1a1a1a" stroke-width="0.18">Pacific Northwest</text>
<text x="260" y="115.6" font-size="6.6" text-anchor="middle" font-weight="normal" font-style="normal" fill="#1a1a1a" stroke="#1a1a1a" stroke-width="0.18">Southwest USA</text>
<text x="319.8" y="115.6" font-size="6.6" text-anchor="middle" font-weight="normal" font-style="normal" fill="#1a1a1a" stroke="#1a1a1a" stroke-width="0.18">Northern Mexico</text>
<text x="378.3" y="115.6" font-size="6.6" text-anchor="middle" font-weight="normal" font-style="normal" fill="#1a1a1a" stroke="#1a1a1a" stroke-width="0.18">Southern Mexico</text>
<text x="461" y="115.6" font-size="6.6" text-anchor="middle" font-weight="normal" font-style="normal" fill="#1a1a1a" stroke="#1a1a1a" stroke-width="0.18">Eastern USA</text>
<text x="518.4" y="115.6" font-size="6.6" text-anchor="middle" font-weight="normal" font-style="normal" fill="#1a1a1a" stroke="#1a1a1a" stroke-width="0.18">S. Mexico</text>
<text x="89.3" y="208.3" font-size="8.6" text-anchor="middle" font-weight="normal" font-style="normal" fill="#1a1a1a" stroke="#1a1a1a" stroke-width="0.1">9</text>
<text x="252" y="208.3" font-size="8.6" text-anchor="middle" font-weight="normal" font-style="normal" fill="#1a1a1a" stroke="#1a1a1a" stroke-width="0.1">10</text>
<text x="437.5" y="208.3" font-size="8.6" text-anchor="middle" font-weight="normal" font-style="normal" fill="#1a1a1a" stroke="#1a1a1a" stroke-width="0.1">20</text>
<rect x="21.00" y="213.50" width="308.40" height="3.00" fill="#338A3E"/>
<rect x="335.00" y="213.50" width="203.00" height="3.00" fill="#75207D"/>
<text x="289.5" y="229.2" font-size="6.6" text-anchor="middle" font-weight="normal" font-style="normal" fill="#1a1a1a" stroke="#1a1a1a" stroke-width="0.18">Southern Mexico</text>
<text x="110.3" y="321.8" font-size="8.6" text-anchor="middle" font-weight="normal" font-style="normal" fill="#1a1a1a" stroke="#1a1a1a" stroke-width="0.1">13</text>
<text x="312.7" y="321.8" font-size="8.6" text-anchor="middle" font-weight="normal" font-style="normal" fill="#1a1a1a" stroke="#1a1a1a" stroke-width="0.1">19</text>
<text x="475.2" y="321.8" font-size="8.6" text-anchor="middle" font-weight="normal" font-style="normal" fill="#1a1a1a" stroke="#1a1a1a" stroke-width="0.1">18</text>
<rect x="21.00" y="327.00" width="192.00" height="3.00" fill="#338A3E"/>
<rect x="216.00" y="327.00" width="194.60" height="3.00" fill="#2E3188"/>
<rect x="414.00" y="327.00" width="122.00" height="3.00" fill="#D4A017"/>
<text x="291.7" y="342.8" font-size="6.6" text-anchor="middle" font-weight="normal" font-style="normal" fill="#1a1a1a" stroke="#1a1a1a" stroke-width="0.18">Eastern USA</text>
<circle cx="36" cy="364.6" r="5" fill="#D8402A"/><text x="46" y="367.90000000000003" font-size="6.6" text-anchor="start" font-weight="normal" font-style="italic" fill="#1a1a1a" stroke="#1a1a1a" stroke-width="0.18">Rhagoletis indifferens,</text><text stroke="#1a1a1a" stroke-width="0.3" x="114" y="367.90000000000003" font-size="6.6" text-anchor="start" font-weight="normal" font-style="normal" fill="#1a1a1a" stroke="#1a1a1a" stroke-width="0.18">Host:</text><text x="131" y="367.90000000000003" font-size="6.6" text-anchor="start" font-weight="normal" font-style="italic" fill="#1a1a1a" stroke="#1a1a1a" stroke-width="0.18">Prunus emarginata</text>
<circle cx="36" cy="382.6" r="5" fill="#338A3E"/><text x="46" y="385.90000000000003" font-size="6.6" text-anchor="start" font-weight="normal" font-style="italic" fill="#1a1a1a" stroke="#1a1a1a" stroke-width="0.18">Rhagoletis cingulata ,</text><text stroke="#1a1a1a" stroke-width="0.3" x="109.5" y="385.90000000000003" font-size="6.6" text-anchor="start" font-weight="normal" font-style="normal" fill="#1a1a1a" stroke="#1a1a1a" stroke-width="0.18">Host:</text><text x="126.6" y="385.90000000000003" font-size="6.6" text-anchor="start" font-weight="normal" font-style="italic" fill="#1a1a1a" stroke="#1a1a1a" stroke-width="0.18">Prunus serotina</text>
<circle cx="216.6" cy="364.6" r="5" fill="#D4A017"/><text x="226.6" y="367.90000000000003" font-size="6.6" text-anchor="start" font-weight="normal" font-style="italic" fill="#1a1a1a" stroke="#1a1a1a" stroke-width="0.18">Rhagoletis chionanthi,</text><text stroke="#1a1a1a" stroke-width="0.3" x="294" y="367.90000000000003" font-size="6.6" text-anchor="start" font-weight="normal" font-style="normal" fill="#1a1a1a" stroke="#1a1a1a" stroke-width="0.18">Host:</text><text x="311.5" y="367.90000000000003" font-size="6.6" text-anchor="start" font-weight="normal" font-style="italic" fill="#1a1a1a" stroke="#1a1a1a" stroke-width="0.18">Chionanthus virginicus</text>
<circle cx="216.6" cy="382.6" r="5" fill="#2E3188"/><text x="226.6" y="385.90000000000003" font-size="6.6" text-anchor="start" font-weight="normal" font-style="italic" fill="#1a1a1a" stroke="#1a1a1a" stroke-width="0.18">Rhagoletis osmanthi ,</text><text stroke="#1a1a1a" stroke-width="0.3" x="290.4" y="385.90000000000003" font-size="6.6" text-anchor="start" font-weight="normal" font-style="normal" fill="#1a1a1a" stroke="#1a1a1a" stroke-width="0.18">Host:</text><text x="307.7" y="385.90000000000003" font-size="6.6" text-anchor="start" font-weight="normal" font-style="italic" fill="#1a1a1a" stroke="#1a1a1a" stroke-width="0.18">Osmanthus americanus</text>
<circle cx="397" cy="364.6" r="5" fill="#75207D"/><text x="407" y="367.90000000000003" font-size="6.6" text-anchor="start" font-weight="normal" font-style="italic" fill="#1a1a1a" stroke="#1a1a1a" stroke-width="0.18">Rhagoletis turpiniae,</text><text stroke="#1a1a1a" stroke-width="0.3" x="469.5" y="367.90000000000003" font-size="6.6" text-anchor="start" font-weight="normal" font-style="normal" fill="#1a1a1a" stroke="#1a1a1a" stroke-width="0.18">Host:</text><text x="485" y="367.90000000000003" font-size="6.6" text-anchor="start" font-weight="normal" font-style="italic" fill="#1a1a1a" stroke="#1a1a1a" stroke-width="0.18">Turpinia insignis</text></svg></body></html>
